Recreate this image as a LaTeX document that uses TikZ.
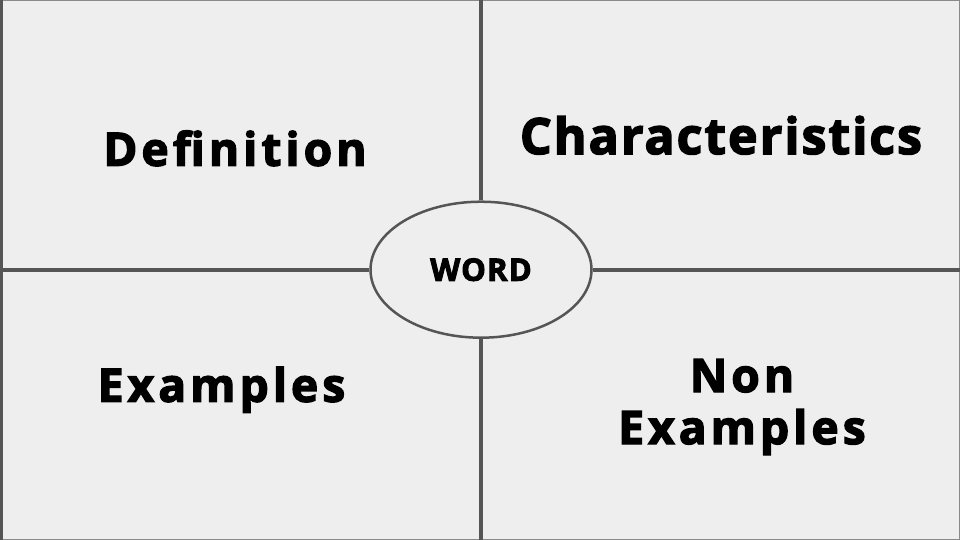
\documentclass[tikz,border=0pt]{standalone}
\usepackage{fontspec}
\setmainfont{Open Sans}
\newfontfamily\heavy[FakeBold=3]{Open Sans}
\usetikzlibrary{shapes.geometric}
\definecolor{bg}{HTML}{EEEEEE}
\definecolor{ln}{HTML}{555555}
\definecolor{edge}{HTML}{8A8A8A}
\newcommand{\lbl}[2]{\heavy\bfseries\addfontfeatures{LetterSpace=#2}\fontsize{#1}{52}\selectfont}
\tikzset{
  label/.style={text=black, inner sep=0pt, anchor=base},
  divider/.style={draw=ln, line width=4pt},
}
\begin{document}
\begin{tikzpicture}[x=1pt,y=-1pt]
\fill[bg] (0,0) rectangle (960,540);
\useasboundingbox (0,0) rectangle (960,540);
% frame
\draw[edge, line width=1.5pt] (0,0.75) -- (960,0.75);
\draw[edge, line width=1.5pt] (959.25,0) -- (959.25,540);
\draw[edge, line width=1.5pt] (0,539.25) -- (960,539.25);
\draw[ln, line width=3pt] (1.5,0) -- (1.5,540);
% centre ellipse
\node[ellipse, draw=ln, line width=2.5pt, minimum width=221pt, minimum height=136pt, inner sep=0pt,
      font=\lbl{31}{4}, fill=bg] (word) at (481,269.7) {WORD};
\coordinate (top) at (481,0);
\coordinate (bot) at (481,540);
\coordinate (lft) at (0,269.7);
\coordinate (rgt) at (960,269.7);
\draw[divider] (word.north) -- (top);
\draw[divider] (word.south) -- (bot);
\draw[divider] (word.west) -- (lft);
\draw[divider] (word.east) -- (rgt);
% labels
\node[label, font=\lbl{46}{9}] (def) at (235,165.7) {Definition};
\node[label, font=\lbl{50}{4}] (char) at (721,154) {Characteristics};
\node[label, font=\lbl{46}{9}] (ex) at (221.5,401.7) {Examples};
\node[label, font=\lbl{46}{9}, align=center] (nonex) at (742,444) {Non\\Examples};
\end{tikzpicture}
\end{document}
